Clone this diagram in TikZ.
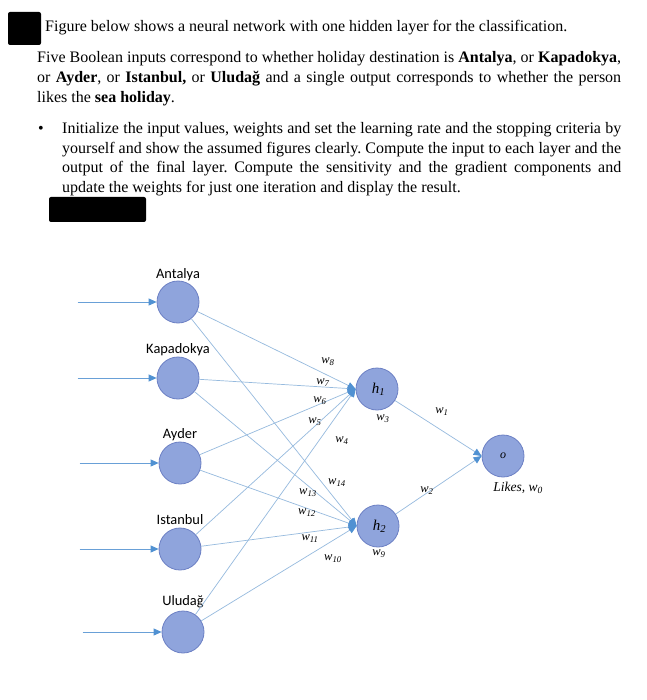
\documentclass[tikz,border=0pt]{standalone}
\usepackage{fontspec}
\setmainfont{Liberation Serif}
\newfontfamily\calibri{Carlito}
\usepackage{xcolor}
\usepackage{tikz}
\usetikzlibrary{positioning}
\usetikzlibrary{shapes.geometric, arrows.meta}
\definecolor{nodefill}{RGB}{143,164,220}
\definecolor{nodeline}{RGB}{108,128,196}
\definecolor{linkblue}{RGB}{150,186,222}
\definecolor{tipblue}{RGB}{80,145,210}
\definecolor{feedblue}{RGB}{105,160,215}
\tikzstyle{neuron} = [circle, minimum size=42pt, inner sep=0pt, draw=nodeline, fill=nodefill, line width=0.8pt]
\tikzstyle{link} = [draw=linkblue, line width=0.7pt, -{Triangle[length=8pt,width=7pt,color=tipblue]}]
\tikzstyle{feed} = [draw=feedblue, line width=0.8pt, -{Triangle[length=8pt,width=7pt,color=tipblue]}]
\tikzstyle{weight} = [font=\fontsize{12.5}{12}\selectfont\itshape, inner sep=0pt]
\tikzstyle{city} = [font=\calibri\fontsize{14.4}{14}\selectfont, inner sep=0pt]
\tikzstyle{textline} = [anchor=base west, inner sep=0pt, font=\fontsize{16}{20}\selectfont]
\tikzset{>=latex}
\frenchspacing

\begin{document}
\begin{tikzpicture}[x=1pt, y=-1pt, node distance=84pt]
    \fill [white] (0,0) rectangle (646,700);
    \useasboundingbox (0,0) rectangle (646,700);
    % Question text
    \fill [black, rounded corners=2pt] (8,12) rectangle (41,45);
    \node (line1) [textline] at (45,32) {Figure below shows a neural network with one hidden layer for the classification.};
    \node (line2) [textline] at (37,63) {\makebox[584pt][s]{Five Boolean inputs correspond to whether holiday destination is \textbf{Antalya}, or \textbf{Kapadokya},}};
    \node (line3) [textline] at (37,83) {\makebox[584pt][s]{or \textbf{Ayder}, or \textbf{Istanbul,} or \textbf{Uludağ} and a single output corresponds to whether the person}};
    \node (line4) [textline] at (37,103) {likes the \textbf{sea holiday}.};
    \node (bullet) [textline] at (38,134) {•};
    \node (line5) [textline] at (62,134) {\makebox[559pt][s]{Initialize the input values, weights and set the learning rate and the stopping criteria by}};
    \node (line6) [textline] at (62,154) {\makebox[559pt][s]{yourself and show the assumed figures clearly. Compute the input to each layer and the}};
    \node (line7) [textline] at (62,173) {\makebox[559pt][s]{output of the final layer. Compute the sensitivity and the gradient components and}};
    \node (line8) [textline] at (62,193) {update the weights for just one iteration and display the result.};
    \fill [black, rounded corners=2pt] (49,197) rectangle (146,222);
    % Input layer
    \node (antalya) [neuron] at (178,302) {};
    \node (kapadokya) [neuron, below of=antalya, yshift=8pt] {};
    \node (ayder) [neuron, below of=kapadokya, xshift=2pt, yshift=-1pt] {};
    \node (istanbul) [neuron, below of=ayder, yshift=-2pt] {};
    \node (uludag) [neuron, below of=istanbul, xshift=3pt, yshift=1pt] {};
    \node (antalya_lbl) [city, above of=antalya, node distance=27pt] {Antalya};
    \node (kapadokya_lbl) [city, above of=kapadokya, node distance=28pt] {Kapadokya};
    \node (ayder_lbl) [city, above of=ayder, node distance=28pt] {Ayder};
    \node (istanbul_lbl) [city, above of=istanbul, node distance=29pt] {Istanbul};
    \node (uludag_lbl) [city, above of=uludag, node distance=30pt] {Uludağ};
    % Hidden and output layer
    \node (h1) [neuron, font=\fontsize{15}{15}\selectfont\itshape] at (377,389) {\hspace{3pt}h\textsubscript{1}};
    \node (h2) [neuron, font=\fontsize{15}{15}\selectfont\itshape] at (378,526) {\hspace{3pt}h\textsubscript{2}};
    \node (out) [neuron, font=\fontsize{12}{12}\selectfont\itshape] at (503,456) {o};
    \node (likes) [below of=out, node distance=32pt, xshift=15pt, font=\fontsize{13.5}{13}\selectfont\itshape, inner sep=0pt] {Likes, w\textsubscript{0}};
    % Input arrows
    \coordinate (in_antalya) at ([xshift=-79pt]antalya.west);
    \coordinate (in_kapadokya) at ([xshift=-79pt]kapadokya.west);
    \coordinate (in_ayder) at ([xshift=-79pt]ayder.west);
    \coordinate (in_istanbul) at ([xshift=-79pt]istanbul.west);
    \coordinate (in_uludag) at ([xshift=-79pt]uludag.west);
    \draw [feed] (in_antalya) -- (antalya);
    \draw [feed] (in_kapadokya) -- (kapadokya);
    \draw [feed] (in_ayder) -- (ayder);
    \draw [feed] (in_istanbul) -- (istanbul);
    \draw [feed] (in_uludag) -- (uludag);
    % Links to hidden layer
    \draw [link] (antalya) -- (h1.west);
    \draw [link] (kapadokya) -- (h1.west);
    \draw [link] (ayder) -- (h1.west);
    \draw [link] (istanbul) -- (h1.west);
    \draw [link] (uludag) -- (h1.west);
    \draw [link] (antalya) -- (h2.west);
    \draw [link] (kapadokya) -- (h2.west);
    \draw [link] (ayder) -- (h2.west);
    \draw [link] (istanbul) -- (h2.west);
    \draw [link] (uludag) -- (h2.west);
    % Links to output
    \draw [link] (h1) -- (out.west);
    \draw [link] (h2) -- (out.west);
    % Weights
    \node (w8) [weight] at (328,362) {w\textsubscript{8}};
    \node (w7) [weight] at (323,383) {w\textsubscript{7}};
    \node (w6) [weight] at (320,401) {w\textsubscript{6}};
    \node (w5) [weight] at (315,422) {w\textsubscript{5}};
    \node (w4) [weight] at (342,441) {w\textsubscript{4}};
    \node (w3) [weight] at (383,419) {w\textsubscript{3}};
    \node (w1) [weight] at (442,412) {w\textsubscript{1}};
    \node (w14) [weight] at (337,483) {w\textsubscript{14}};
    \node (w13) [weight] at (308,493) {w\textsubscript{13}};
    \node (w12) [weight] at (307,513) {w\textsubscript{12}};
    \node (w11) [weight] at (310,539) {w\textsubscript{11}};
    \node (w10) [weight] at (333,559) {w\textsubscript{10}};
    \node (w9) [weight] at (379,554) {w\textsubscript{9}};
    \node (w2) [weight] at (427,491) {w\textsubscript{2}};
\end{tikzpicture}
\end{document}
